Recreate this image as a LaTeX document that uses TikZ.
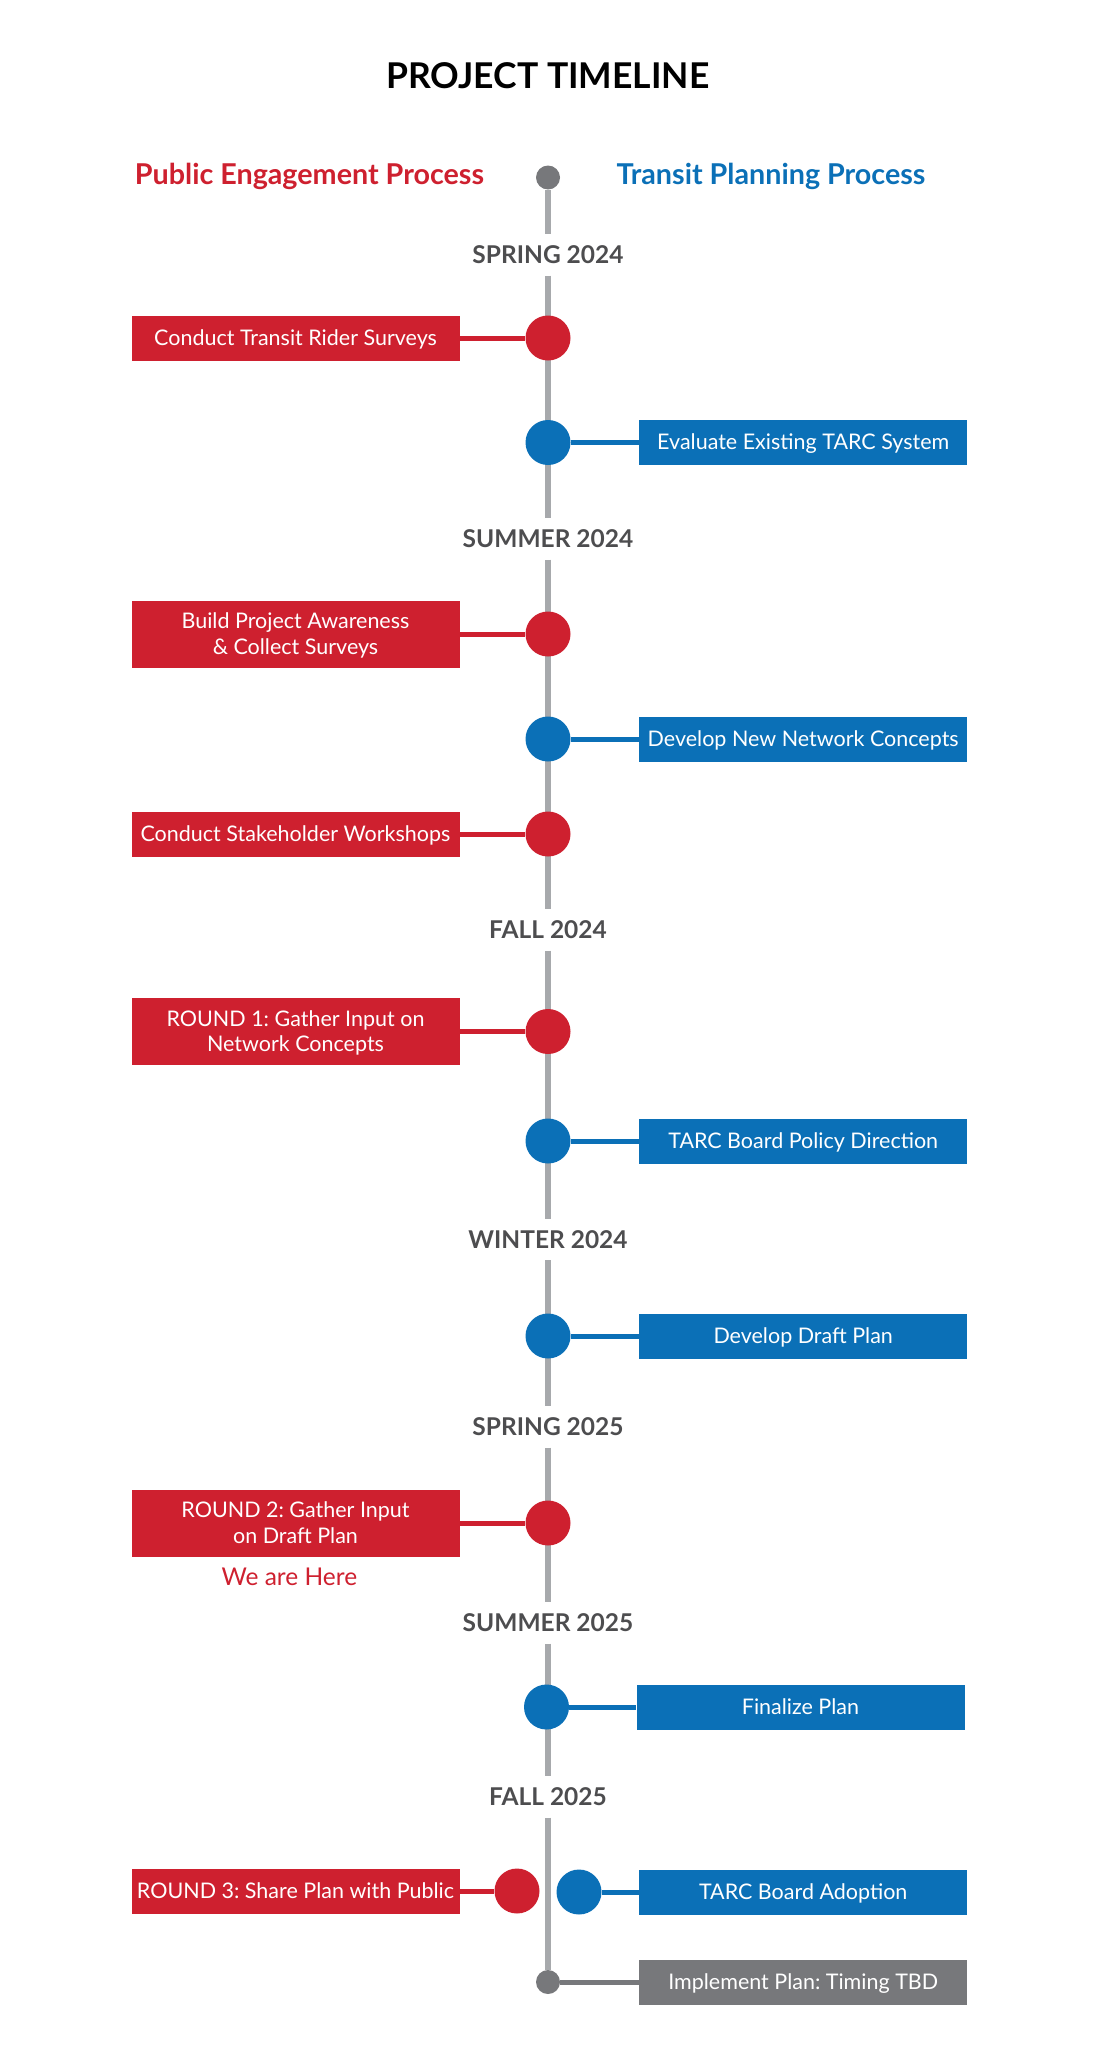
\documentclass[tikz,border=0pt]{standalone}
\usepackage{fontspec}
\setmainfont{Lato}
\usepackage{tikz}
\definecolor{tred}{RGB}{206,32,47}
\definecolor{tblue}{RGB}{11,112,183}
\definecolor{tspine}{RGB}{167,169,172}
\definecolor{tgray}{RGB}{119,120,123}
\definecolor{tseason}{RGB}{77,77,79}
\frenchspacing

\begin{document}
\begin{tikzpicture}[x=1pt,y=-1pt,
  evbox/.style={rectangle,minimum width=328pt,minimum height=45pt,inner sep=0pt,text depth=1pt,text=white,align=center,font=\fontsize{21.5}{25.5}\selectfont},
  redbox/.style={evbox,fill=tred},
  bluebox/.style={evbox,fill=tblue},
  graybox/.style={evbox,fill=tgray},
  tallbox/.style={minimum height=67pt},
  reddot/.style={circle,fill=tred,minimum size=45pt,inner sep=0pt},
  bluedot/.style={circle,fill=tblue,minimum size=45pt,inner sep=0pt},
  enddot/.style={circle,fill=tgray,minimum size=24pt,inner sep=0pt},
  season/.style={text=tseason,font=\bfseries\fontsize{24.5}{29}\selectfont,minimum height=41pt,inner sep=0pt},
  spine/.style={draw=tspine,line width=5.5pt},
  redlink/.style={draw=tred,line width=5pt},
  bluelink/.style={draw=tblue,line width=5pt},
  graylink/.style={draw=tgray,line width=5pt}]
  \useasboundingbox (0,0) rectangle (1099,2048);

  \node[anchor=base,font=\bfseries\fontsize{35.5}{40}\selectfont] at (548,88) (title) {PROJECT TIMELINE};
  \node[anchor=base,text=tred,font=\bfseries\fontsize{28.7}{33}\selectfont] at (309.5,184) (hpublic) {Public Engagement Process};
  \node[anchor=base,text=tblue,font=\bfseries\fontsize{28.7}{33}\selectfont] at (771,184) (htransit) {Transit Planning Process};
  \node[enddot] at (548,177.5) (top) {};

  \node[season] at (548,255) (s1) {SPRING 2024};
  \node[season] at (548,539) (s2) {SUMMER 2024};
  \node[season] at (548,930) (s3) {FALL 2024};
  \node[season] at (548,1239.5) (s4) {WINTER 2024};
  \node[season] at (548,1427) (s5) {SPRING 2025};
  \node[season] at (548,1623) (s6) {SUMMER 2025};
  \node[season] at (548,1797) (s7) {FALL 2025};
  \node[enddot] at (548,1982) (bottom) {};

  \draw[spine] (top) -- (s1.north); \draw[spine] (s1.south) -- (s2.north);
  \draw[spine] (s2.south) -- (s3.north); \draw[spine] (s3.south) -- (s4.north);
  \draw[spine] (s4.south) -- (s5.north); \draw[spine] (s5.south) -- (s6.north);
  \draw[spine] (s6.south) -- (s7.north); \draw[spine] (s7.south) -- (bottom);

  \node[reddot] at (548,338) (d1) {};
  \node[redbox] at (295.5,338) (e1) {Conduct Transit Rider Surveys};
  \draw[redlink] (e1) -- (d1);

  \node[bluedot] at (548,442.5) (d2) {};
  \node[bluebox] at (803.2,442.5) (e2) {Evaluate Existing TARC System};
  \draw[bluelink] (d2) -- (e2);

  \node[reddot] at (548,634) (d3) {};
  \node[redbox,tallbox] at (295.5,634) (e3) {Build Project Awareness\\\& Collect Surveys};
  \draw[redlink] (e3) -- (d3);

  \node[bluedot] at (548,739) (d4) {};
  \node[bluebox] at (803.2,739) (e4) {Develop New Network Concepts};
  \draw[bluelink] (d4) -- (e4);

  \node[reddot] at (548,834) (d5) {};
  \node[redbox] at (295.5,834) (e5) {Conduct Stakeholder Workshops};
  \draw[redlink] (e5) -- (d5);

  \node[reddot] at (548,1031.5) (d6) {};
  \node[redbox,tallbox] at (295.5,1031.5) (e6) {ROUND 1: Gather Input on\\Network Concepts};
  \draw[redlink] (e6) -- (d6);

  \node[bluedot] at (548,1141) (d7) {};
  \node[bluebox] at (803.2,1141) (e7) {TARC Board Policy Direction};
  \draw[bluelink] (d7) -- (e7);

  \node[bluedot] at (548,1336) (d8) {};
  \node[bluebox] at (803.2,1336) (e8) {Develop Draft Plan};
  \draw[bluelink] (d8) -- (e8);

  \node[reddot] at (548,1523) (d9) {};
  \node[redbox,tallbox] at (295.5,1523) (e9) {ROUND 2: Gather Input\\on Draft Plan};
  \draw[redlink] (e9) -- (d9);
  \node[text=tred,font=\fontsize{24.5}{28}\selectfont,inner sep=0pt] at (289.4,1577) (here) {We are Here};

  \node[bluedot] at (546.5,1707) (d10) {};
  \node[bluebox] at (800.5,1707) (e10) {Finalize Plan};
  \draw[bluelink] (d10) -- (e10);

  \node[reddot] at (517,1891) (d11) {};
  \node[redbox] at (295.5,1891) (e11) {ROUND 3: Share Plan with Public};
  \draw[redlink] (e11) -- (d11);

  \node[bluedot] at (579,1892) (d12) {};
  \node[bluebox] at (803.2,1892) (e12) {TARC Board Adoption};
  \draw[bluelink] (d12) -- (e12);

  \node[graybox] at (803.2,1982) (e13) {Implement Plan: Timing TBD};
  \draw[graylink] (bottom) -- (e13);

\end{tikzpicture}
\end{document}
